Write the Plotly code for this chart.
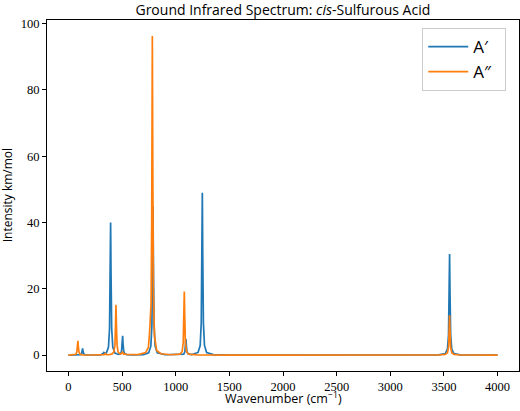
import plotly.graph_objects as go

# Spectrum: wavenumber (cm^-1) and intensity (km/mol)
a1_wavenumber = [0, 92, 112, 122, 128, 132, 136, 142, 152, 172,
                 300, 320, 326, 330, 334, 340,
                 353, 373, 383, 389, 393, 397, 403, 413, 433,
                 465, 485, 495, 501, 505, 509, 515, 525, 545, 600,
                 700, 748, 768, 778, 784, 788, 792, 798, 808, 828, 900,
                 1055, 1075, 1085, 1091, 1095, 1099, 1105, 1115, 1150,
                 1208, 1228, 1238, 1244, 1248, 1252, 1258, 1268, 1288, 1350, 1500, 2000,
                 3450, 3513, 3533, 3543, 3549, 3553, 3557, 3563, 3573, 3593, 3650, 4000]
a1_intensity = [0, 0.03, 0.12, 0.4, 1.2, 2.0, 1.2, 0.4, 0.12, 0.03,
                0.05, 0.3, 0.6, 0.8, 0.6, 0.55,
                0.6, 2.4, 8.0, 24.4, 40, 24.4, 8.0, 2.4, 0.6,
                0.2, 0.4, 1.2, 3.5, 5.8, 3.5, 1.2, 0.4, 0.15, 0.05,
                0.15, 0.7, 2.7, 9.0, 27.5, 45, 27.5, 9.0, 2.7, 0.7, 0.1,
                0.1, 0.3, 1.0, 2.9, 4.8, 2.9, 1.0, 0.35, 0.15,
                0.8, 2.9, 9.8, 30, 49, 30, 9.8, 2.9, 0.75, 0.15, 0.03, 0,
                0.05, 0.45, 1.8, 6.1, 18.6, 30.5, 18.6, 6.1, 1.8, 0.45, 0.06, 0]

a2_wavenumber = [0, 48, 68, 78, 84, 88, 92, 98, 108, 128, 200,
                 315, 335, 341, 345, 349, 355, 375,
                 403, 423, 433, 439, 443, 447, 453, 463, 483,
                 495, 501, 505, 509, 515, 540,
                 650, 720, 745, 755, 760, 764, 770, 776, 782, 786, 792, 802, 822, 862, 950,
                 1040, 1060, 1070, 1076, 1080, 1084, 1090, 1100, 1120, 1200, 1500,
                 3450, 3513, 3533, 3543, 3549, 3553, 3557, 3563, 3573, 3593, 3650, 4000]
a2_intensity = [0, 0.07, 0.26, 0.9, 2.6, 4.3, 2.6, 0.9, 0.26, 0.07, 0.02,
                0.05, 0.15, 0.35, 0.6, 0.35, 0.15, 0.1,
                0.3, 0.9, 3.0, 9.3, 15.2, 9.3, 3.0, 0.9, 0.35,
                0.4, 0.7, 1.0, 0.7, 0.35, 0.2,
                0.15, 0.75, 2.3, 6.2, 10.7, 10.6, 15.4, 39.6, 96.3, 58, 19, 5.7, 1.4, 0.4, 0.1,
                0.3, 1.1, 3.8, 11.7, 19.2, 11.7, 3.8, 1.1, 0.3, 0.05, 0.01,
                0.02, 0.2, 0.7, 2.4, 7.3, 12, 7.3, 2.4, 0.7, 0.2, 0.03, 0]

x_ticks = [0, 500, 1000, 1500, 2000, 2500, 3000, 3500, 4000]
y_ticks = [0, 20, 40, 60, 80, 100]

SERIF = "Liberation Serif, DejaVu Serif, serif"
SANS = "Open Sans, DejaVu Sans, sans-serif"
PAD = '\u00a0\u00a0'  # widens the legend box a little

fig = go.Figure()

fig.add_trace(go.Scatter(
    x=a1_wavenumber, y=a1_intensity, mode='lines', name='A′' + PAD,
    line=dict(color='#1f77b4', width=1.7)
))
fig.add_trace(go.Scatter(
    x=a2_wavenumber, y=a2_intensity, mode='lines', name='A″' + PAD,
    line=dict(color='#ff7f0e', width=1.7)
))

axis_style = dict(
    showline=True, linecolor='black', linewidth=1, mirror=True,
    ticks='outside', ticklen=4, tickwidth=1, tickcolor='black',
    showgrid=False, zeroline=False, automargin=False,
    tickfont=dict(family=SERIF, size=12.5, color='black')
)

fig.update_layout(
    width=520, height=411,
    margin=dict(l=47, r=1, t=20, b=40),
    paper_bgcolor='white', plot_bgcolor='white',
    title=dict(text='Ground Infrared Spectrum: <i>cis</i>-Sulfurous Acid',
               x=0.544, xanchor='center', y=0.976, yanchor='middle',
               font=dict(family=SANS, size=14, color='black')),
    xaxis=dict(axis_style, range=[-200, 4200], tickvals=x_ticks),
    yaxis=dict(axis_style, range=[-4.8, 101.1], tickvals=y_ticks),
    legend=dict(x=0.973, xanchor='right', y=0.977, yanchor='top',
                bgcolor='white', bordercolor='#cccccc', borderwidth=1,
                itemwidth=40,
                font=dict(family=SANS, size=17, color='black')),
    annotations=[
        dict(text='Wavenumber (cm<sup>−1</sup>)', xref='paper', yref='paper',
             x=0.5, y=-0.077, xanchor='center', yanchor='middle', showarrow=False,
             font=dict(family=SANS, size=12.5, color='black')),
        dict(text='Intensity km/mol', xref='paper', yref='paper',
             x=-0.083, y=0.5, xanchor='center', yanchor='middle', showarrow=False,
             textangle=-90, font=dict(family=SANS, size=12, color='black')),
    ]
)

# drop the page's default body margin so the figure sits at the window's corner
fig.write_html("out.html", config={'displayModeBar': False},
               post_script="document.body.style.margin='0';")
